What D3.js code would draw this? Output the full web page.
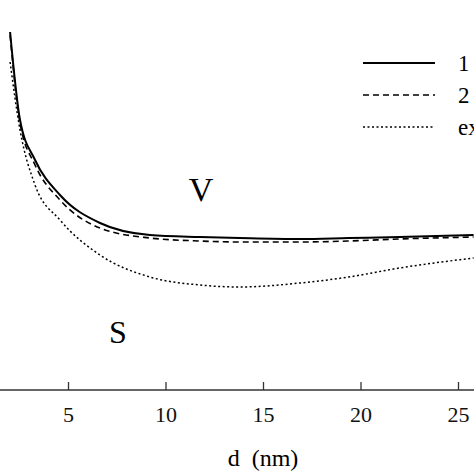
<!DOCTYPE html><html><head><script src="https://cdn.jsdelivr.net/npm/d3@7"></script>
<style>body{margin:0;background:#fff}</style></head><body><svg id="c" width="474" height="474"></svg><script>
const dVals=[2.03,2.54,3.31,4.59,6.64,9.2,11.77,13.8,16.9,19.4,22,25.8];
const s1=[3.58,2.70,2.30,1.95,1.67,1.55,1.53,1.52,1.51,1.52,1.53,1.55];
const s2=[3.55,2.67,2.25,1.90,1.62,1.52,1.49,1.48,1.48,1.49,1.51,1.53];
const sExp=[3.28,2.60,2.05,1.70,1.35,1.13,1.05,1.03,1.07,1.13,1.22,1.32];
const xTicks=[5,10,15,20,25];
const legendLabels=["1","2","exp"];
const svg=d3.select("#c");const F="'Liberation Serif', 'DejaVu Serif', serif";
const x=d3.scaleLinear().domain([0,25]).range([-29.5,458]);
const y=d3.scaleLinear().domain([0,3.9]).range([390,0]);
const ax=svg.append("g").attr("transform","translate(0,390)").call(d3.axisBottom(x).tickValues(xTicks).tickSize(-8).tickPadding(16));
ax.attr("font-family",F).attr("font-size",22);
ax.select(".domain").remove();
svg.append("line").attr("x1",0).attr("x2",474).attr("y1",390).attr("y2",390).attr("stroke","#333").attr("stroke-width",1.5);
ax.selectAll("line").attr("stroke","#333").attr("stroke-width",1.3);
ax.selectAll("text").attr("fill","#111");
const dashes=[null,"6,4","2,2.5"];const widths=[2,1.6,1.5];
[s1,s2,sExp].forEach((s,i)=>{
svg.append("path").datum(s.map((v,j)=>[dVals[j],v])).attr("fill","none").attr("stroke","#000").attr("stroke-width",widths[i]).attr("stroke-dasharray",dashes[i]).attr("d",d3.line().x(d=>x(d[0])).y(d=>y(d[1])).curve(d3.curveMonotoneX));
svg.append("line").attr("x1",363).attr("x2",435).attr("y1",63+32*i).attr("y2",63+32*i).attr("stroke","#000").attr("stroke-width",widths[i]).attr("stroke-dasharray",dashes[i]);
svg.append("text").attr("x",458).attr("y",71+32*i).attr("font-family",F).attr("font-size",23).text(legendLabels[i]);
});
svg.append("text").attr("x",201).attr("y",201).attr("text-anchor","middle").attr("font-family",F).attr("font-size",34).text("V");
svg.append("text").attr("x",118).attr("y",343).attr("text-anchor","middle").attr("font-family",F).attr("font-size",32).text("S");
svg.append("text").attr("x",263).attr("y",466).attr("text-anchor","middle").attr("font-family",F).attr("font-size",24).attr("xml:space","preserve").text("d  (nm)");
</script></body></html>
